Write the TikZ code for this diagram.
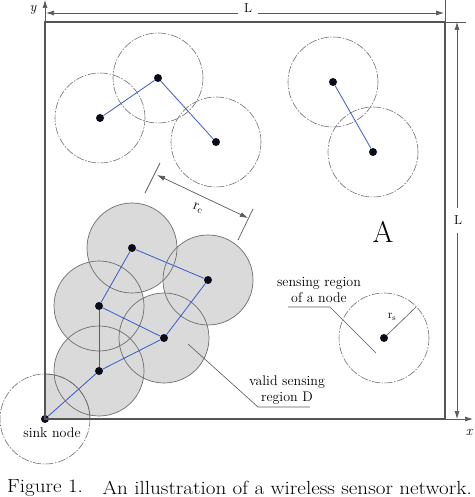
\documentclass[tikz,border=0pt]{standalone}
\usetikzlibrary{arrows.meta}
\definecolor{dotc}{HTML}{0D0D1A}
\definecolor{linkc}{HTML}{3A5AC8}
\definecolor{coverc}{HTML}{DADADA}
\definecolor{coveredge}{HTML}{6E6E6E}
\definecolor{dimc}{HTML}{5A5A5A}
\definecolor{boxc}{HTML}{555555}
\definecolor{rangecol}{HTML}{707070}
\pgfdeclarelayer{bg}
\pgfsetlayers{bg,main}
\begin{document}
\begin{tikzpicture}[x=1pt,y=-1pt,
  sensor/.style={circle,fill=dotc,inner sep=0pt,minimum size=8pt},
  link/.style={draw=linkc,line width=0.8pt},
  rangec/.style={draw=rangecol,dash pattern=on 8pt off 1.5pt on 1.5pt off 1.5pt,line width=0.6pt},
  coverfill/.style={fill=coverc},
  coverline/.style={draw=coveredge,line width=0.7pt},
  dimline/.style={draw=dimc,line width=0.7pt},
  tipend/.style={-{Latex[length=8pt,width=5pt]}},
  tipboth/.style={{Latex[length=8pt,width=5pt]}-{Latex[length=8pt,width=5pt]}},
  tipstart/.style={{Latex[length=8pt,width=5pt]}-},
  lbl/.style={font=\fontsize{14}{16.8}\selectfont,inner sep=0pt,align=center},
]
\path[use as bounding box] (0,0) rectangle (474,497);

% sensor nodes
\node[sensor] (a) at (100,118) {};
\node[sensor] (b) at (158,78) {};
\node[sensor] (c) at (216,142) {};
\node[sensor] (d) at (333,82) {};
\node[sensor] (e) at (373,152) {};
\node[sensor] (f) at (132,248) {};
\node[sensor] (g) at (208,280) {};
\node[sensor] (h) at (99,306) {};
\node[sensor] (i) at (164,338) {};
\node[sensor] (j) at (99,371) {};
\node[sensor] (s) at (45,419) {};
\node[sensor] (k) at (384,338) {};

\begin{pgfonlayer}{bg}
  % covered (valid sensing) region
  \foreach \n in {f,g,h,i,j} \fill[coverfill] (\n.center) circle[radius=45pt];
  \begin{scope}
    \clip (45,22) rectangle (445,419);
    \fill[coverfill] (s.center) circle[radius=45pt];
  \end{scope}
  \foreach \n in {f,g,h,i,j} \draw[coverline] (\n.center) circle[radius=45pt];
  % sensing ranges of isolated nodes
  \foreach \n in {a,b,c,d,e,k} \draw[rangec] (\n.center) circle[radius=45pt];
  \draw[rangec] (s.center) circle[radius=45pt];
  \begin{scope}
    \clip (45,22) rectangle (445,419);
    \draw[coverline] (s.center) circle[radius=45pt];
  \end{scope}
\end{pgfonlayer}

% axes
\coordinate (ytop) at (45,0);
\coordinate (xend) at (473,419);
\draw[dimline,tipend] (s.center) -- (ytop);
\draw[dimline,tipend] (s.center) -- (xend);
\node[font=\fontsize{14}{16}\selectfont\itshape,inner sep=0pt] (ylab) at (33,10) {y};
\node[font=\fontsize{14}{16}\selectfont\itshape,inner sep=0pt] (xlab) at (469,432) {x};

% field boundary
\draw[line width=2.7pt,draw=boxc] (45,22) rectangle (445,419);

% dimension L (top)
\coordinate (tl) at (46,13);
\coordinate (tr) at (444,13);
\coordinate (tr0) at (445,0);
\coordinate (tr1) at (445,22);
\draw[dimline] (tr1) -- (tr0);
\node[lbl,font=\fontsize{13}{15}\selectfont] (Ltop) at (248,8) {L};
\draw[dimline,tipstart] (tl) -- (238,13);
\draw[dimline,tipend] (258,13) -- (tr);

% dimension L (right)
\coordinate (rt) at (457,22);
\coordinate (rb) at (457,419);
\coordinate (rext) at (466,22);
\draw[dimline] (tr1) -- (rext);
\node[lbl,font=\fontsize{13}{15}\selectfont] (Lright) at (458,220) {L};
\draw[dimline,tipstart] (rt) -- (457,208);
\draw[dimline,tipend] (457,233) -- (rb);

% links
\draw[link] (a) -- (b);
\draw[link] (b) -- (c);
\draw[link] (d) -- (e);
\draw[link] (s) -- (j);
\draw[link] (j) -- (h);
\draw[link] (h) -- (f);
\draw[link] (f) -- (g);
\draw[link] (g) -- (i);
\draw[link] (i) -- (h);
\draw[link] (j) -- (i);

% r_c dimension
\coordinate (rc1) at (157,175);
\coordinate (rc2) at (248,218);
\draw[dimline] (145,193) -- (160,163);
\draw[dimline] (238,240) -- (253,209);
\draw[dimline,tipboth] (rc1) -- (rc2);
\node[lbl,rotate=-20] (rclab) at (198,208) {$\mathrm{r}_{\mathrm{c}}$};

% r_s radius
\coordinate (rsend) at (416,307);
\draw[dimline,line width=0.6pt] (k) -- (rsend);
\node[lbl,font=\fontsize{12}{14}\selectfont] (rslab) at (392,317) {$\mathrm{r}_{\mathrm{s}}$};

% big A
\node[inner sep=0pt,font=\fontsize{30}{32}\selectfont] (Alab) at (383,232) {A};

% sensing region label
\node[lbl] (senslab) at (319,290) {sensing region\\of a node};
\coordinate (sl1) at (288,307);
\coordinate (sl2) at (330,307);
\coordinate (sl3) at (376,353);
\draw[dimline,line width=0.6pt] (sl1) -- (sl2) -- (sl3);

% valid sensing region label
\node[lbl] (validlab) at (287,390) {valid sensing\\region D};
\coordinate (vl1) at (188,344);
\coordinate (vl2) at (258,407);
\coordinate (vl3) at (310,407);
\draw[dimline,line width=0.6pt] (vl1) -- (vl2) -- (vl3);

% sink label
\node[lbl] (sinklab) at (52,433) {sink node};

% caption
\node[anchor=west,inner sep=0pt,font=\fontsize{19}{22}\selectfont] (cap1) at (7,488) {\scalebox{1.11}[1]{Figure 1.}};
\node[anchor=east,inner sep=0pt,font=\fontsize{19}{22}\selectfont] (cap2) at (472,488) {\scalebox{1.11}[1]{An illustration of a wireless sensor network.}};
\end{tikzpicture}
\end{document}
